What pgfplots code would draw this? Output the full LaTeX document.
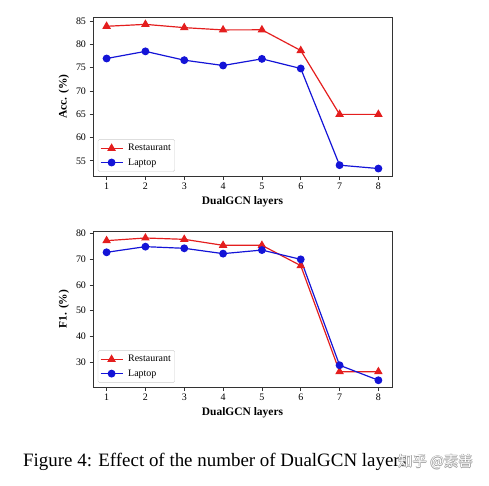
\documentclass[border=0pt]{standalone}
\usepackage{fontspec}
\setmainfont{Liberation Serif}
\newfontfamily\cjk{Noto Sans CJK SC}
\usepackage{pgfplots}
\pgfplotsset{compat=1.18}
\definecolor{rest}{RGB}{228,30,30}
\definecolor{lap}{RGB}{20,20,215}
\pgfplotsset{
  dualstyle/.style={
    scale only axis, anchor=north west,
    width=299bp, height=159bp,
    xmin=0.65, xmax=8.35, xtick={1,...,8},
    tick align=outside, tick pos=left,
    major tick length=3.5bp,
    axis line style={black!80, line width=0.8pt},
    every tick/.style={black!80, line width=0.7pt},
    /pgf/number format/assume math mode=true,
    ticklabel style={font=\fontsize{10}{11}\selectfont},
    label style={font=\fontsize{11.5}{13}\selectfont\bfseries},
    xlabel={DualGCN layers},
    legend style={at={(0.016,0.027)}, anchor=south west, draw=black!20,
      rounded corners=1.5pt, fill=white, font=\fontsize{10}{11}\selectfont,
      row sep=2.2pt, inner xsep=2pt, inner ysep=3pt},
    legend cell align=left,
    legend image code/.code={
      \draw[mark repeat=2, mark phase=2] plot coordinates {(0bp,0bp) (11bp,0bp) (22bp,0bp)};
      \path (25bp,0bp);},
  },
  restp/.style={color=rest, line width=1.2pt, mark=triangle*, mark size=3.8bp},
  lapp/.style={color=lap, line width=1.2pt, mark=*, mark size=3.3bp},
}
\begin{document}
\begin{tikzpicture}
\useasboundingbox (0bp,0bp) rectangle (489bp,-486bp);
\begin{axis}[dualstyle, at={(93bp,-17bp)},
  ymin=51.75, ymax=85.85, ytick={55,60,...,85},
  ylabel={Acc. (\%)}]
\addplot[restp] coordinates {(1,83.86)(2,84.27)(3,83.57)(4,83.08)(5,83.10)(6,78.66)(7,64.97)(8,64.97)};
\addlegendentry{Restaurant}
\addplot[lapp] coordinates {(1,76.95)(2,78.48)(3,76.59)(4,75.45)(5,76.87)(6,74.81)(7,54.07)(8,53.35)};
\addlegendentry{Laptop}
\end{axis}
\begin{axis}[dualstyle, at={(93bp,-231bp)}, height=156bp,
  ymin=20.4, ymax=80.9, ytick={30,40,...,80},
  ylabel={F1. (\%)}]
\addplot[restp] coordinates {(1,77.16)(2,78.19)(3,77.67)(4,75.35)(5,75.35)(6,67.47)(7,26.35)(8,26.35)};
\addlegendentry{Restaurant}
\addplot[lapp] coordinates {(1,72.64)(2,74.83)(3,74.19)(4,72.12)(5,73.51)(6,69.90)(7,28.84)(8,23.02)};
\addlegendentry{Laptop}
\end{axis}
\node[anchor=base west, inner sep=0pt, font=\fontsize{19}{22}\selectfont] at (23bp,-466bp) {Figure 4: Effect of the number of DualGCN layers};
% watermark: white letters with a grey outline, laid over the caption
\foreach \dx/\dy in {-0.6/0,0.6/0,0/-0.6,0/0.6}
  \node[anchor=west, inner sep=0pt, text=black!40, font=\cjk\fontsize{14.5}{16}\selectfont] at (398bp+\dx bp,-462bp+\dy bp) {知乎 @素善};
\node[anchor=west, inner sep=0pt, text=white, font=\cjk\fontsize{14.5}{16}\selectfont] at (398bp,-462bp) {知乎 @素善};
\end{tikzpicture}
\end{document}
